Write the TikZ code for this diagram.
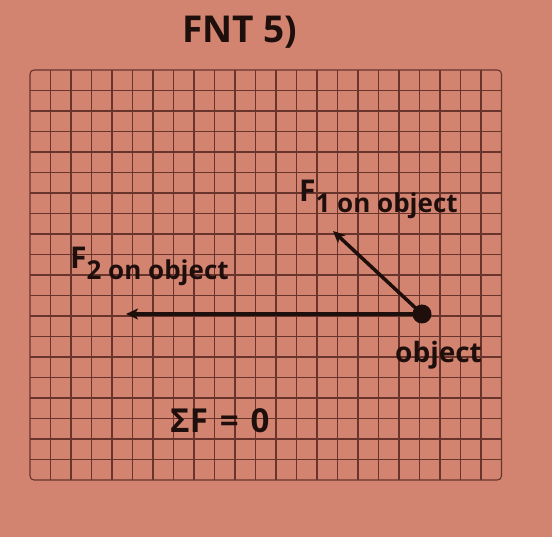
\documentclass[tikz,border=0pt]{standalone}
\usepackage{fontspec}
\setmainfont{Open Sans}
\usetikzlibrary{arrows.meta}
\definecolor{paper}{RGB}{210,132,112}
\definecolor{ink}{RGB}{30,14,12}
\definecolor{gridc}{RGB}{105,52,44}
\begin{document}
\begin{tikzpicture}[x=1pt,y=-1pt,
  gridline/.style={gridc, line width=1.1pt},
  lbl/.style={inner sep=0pt, anchor=base west, text=ink, font=\bfseries},
  force/.style={ink, line width=3.5pt, -{Stealth[length=12pt,width=11pt,inset=3pt]}},
]
\fill[paper] (0,0) rectangle (552,537);
\useasboundingbox (0,0) rectangle (552,537);
% grid
\foreach \i in {1,...,22} \draw[gridline] ({30+20.5*\i},70) -- ({30+20.5*\i},480);
\foreach \j in {1,...,19} \draw[gridline] (30,{70+20.5*\j}) -- (501.5,{70+20.5*\j});
\draw[gridline, rounded corners=4pt] (30,70) rectangle (501.5,480);
% title
\node[lbl] (title) at (182,43) {\fontsize{37}{37}\selectfont FNT 5)};
% object and forces
\node[circle, fill=ink, inner sep=0pt, minimum size=19pt] (obj) at (422,314) {};
\coordinate (t1) at (333,231);
\coordinate (t2) at (126,314);
\draw[force] (obj.center) -- (t1);
\draw[force] (obj.center) -- (t2);
\node[lbl] (f1) at (299,202) {\fontsize{30}{30}\selectfont F\raisebox{-10.5pt}{\fontsize{26}{26}\selectfont 1 on object}};
\node[lbl] (f2) at (70,269) {\fontsize{30}{30}\selectfont F\raisebox{-10.5pt}{\fontsize{26}{26}\selectfont 2 on object}};
\node[lbl] (objlbl) at (395,363) {\fontsize{28}{28}\selectfont object};
\node[lbl] (sum) at (170,433) {\fontsize{33}{33}\selectfont ΣF\hspace{12pt}=\hspace{12pt}0};
\end{tikzpicture}
\end{document}
